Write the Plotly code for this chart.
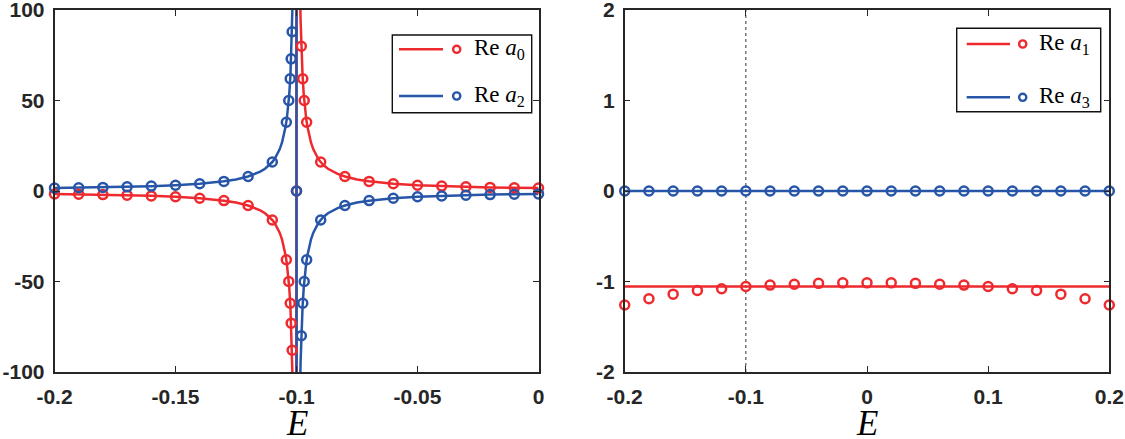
import plotly.graph_objects as go

# ---------------- data ----------------
# Left panel: dense curve samples of Re a0 / Re a2 versus E
E_line_left = [-0.2, -0.19, -0.18, -0.17, -0.16, -0.15, -0.14, -0.13, -0.125, -0.12,
               -0.117, -0.115, -0.113, -0.111, -0.11, -0.109, -0.108, -0.107, -0.106, -0.105,
               -0.1045, -0.104, -0.1035, -0.103, -0.1025, -0.102, -0.1017, -0.1014, -0.1011, -0.1008,
               -0.1004, -0.1001,
               -0.0999, -0.0996, -0.0992, -0.0989, -0.0986, -0.0983, -0.098, -0.0975, -0.097, -0.0965,
               -0.096, -0.0955, -0.095, -0.094, -0.093, -0.092, -0.091, -0.09, -0.089, -0.087,
               -0.085, -0.083, -0.08, -0.075, -0.07, -0.065, -0.06, -0.05, -0.04, -0.03,
               -0.02, -0.01, 0.0]
re_a0_line = [-1.6, -1.78, -2.0, -2.29, -2.67, -3.2, -4.0, -5.33, -6.4, -8.0,
              -9.41, -10.7, -12.3, -14.5, -16.0, -17.8, -20.0, -22.9, -26.7, -32.0,
              -35.6, -40.0, -45.7, -53.3, -64.0, -80.0, -94.1, -114, -145, -200,
              -400, -1600,
              1600, 400, 200, 145, 114, 94.1, 80.0, 64.0, 53.3, 45.7,
              40.0, 35.6, 32.0, 26.7, 22.9, 20.0, 17.8, 16.0, 14.5, 12.3,
              10.7, 9.41, 8.0, 6.4, 5.33, 4.57, 4.0, 3.2, 2.67, 2.29,
              2.0, 1.78, 1.6]
re_a2_line = [1.6, 1.78, 2.0, 2.29, 2.67, 3.2, 4.0, 5.33, 6.4, 8.0,
              9.41, 10.7, 12.3, 14.5, 16.0, 17.8, 20.0, 22.9, 26.7, 32.0,
              35.6, 40.0, 45.7, 53.3, 64.0, 80.0, 94.1, 114, 145, 200,
              400, 1600,
              -1600, -400, -200, -145, -114, -94.1, -80.0, -64.0, -53.3, -45.7,
              -40.0, -35.6, -32.0, -26.7, -22.9, -20.0, -17.8, -16.0, -14.5, -12.3,
              -10.7, -9.41, -8.0, -6.4, -5.33, -4.57, -4.0, -3.2, -2.67, -2.29,
              -2.0, -1.78, -1.6]

# Left panel: sampled points (markers)
E_pts_left = [-0.2, -0.19, -0.18, -0.17, -0.16, -0.15, -0.14, -0.13, -0.12, -0.11,
              -0.1042, -0.1032, -0.1026, -0.1022, -0.1018, -0.1,
              -0.098, -0.0974, -0.0968, -0.0958,
              -0.09, -0.08, -0.07, -0.06, -0.05, -0.04, -0.03, -0.02, -0.01, 0.0]
re_a0_pts = [-1.6, -1.8, -2.0, -2.3, -2.7, -3.2, -4.0, -5.3, -8.0, -16.0,
             -38, -50, -62, -73, -88, 0,
             80, 62, 50, 38,
             16.0, 8.0, 5.3, 4.0, 3.2, 2.7, 2.3, 2.0, 1.8, 1.6]
re_a2_pts = [1.6, 1.8, 2.0, 2.3, 2.7, 3.2, 4.0, 5.3, 8.0, 16.0,
             38, 50, 62, 73, 88, 0,
             -80, -62, -50, -38,
             -16.0, -8.0, -5.3, -4.0, -3.2, -2.7, -2.3, -2.0, -1.8, -1.6]

# Right panel
E_line_right = [-0.2, 0.2]
re_a1_line = [-1.055, -1.055]
re_a3_line = [0.0, 0.0]
E_pts_right = [-0.2, -0.18, -0.16, -0.14, -0.12, -0.1, -0.08, -0.06, -0.04, -0.02, 0.0,
               0.02, 0.04, 0.06, 0.08, 0.1, 0.12, 0.14, 0.16, 0.18, 0.2]
re_a1_pts = [-1.26, -1.19, -1.14, -1.10, -1.08, -1.055, -1.04, -1.03, -1.02, -1.015, -1.015,
             -1.015, -1.02, -1.03, -1.04, -1.055, -1.08, -1.10, -1.14, -1.19, -1.26]
re_a3_pts = [0.0, 0.0, 0.0, 0.0, 0.0, 0.0, 0.0, 0.0, 0.0, 0.0, 0.0,
             0.0, 0.0, 0.0, 0.0, 0.0, 0.0, 0.0, 0.0, 0.0, 0.0]
E_marker_line = -0.1

x_ticks_left = [-0.2, -0.15, -0.1, -0.05, 0]
x_ticktext_left = ['-0.2', '-0.15', '-0.1', '-0.05', '0']
y_ticks_left = [-100, -50, 0, 50, 100]
y_ticktext_left = ['-100', '-50', '0', '50', '100']
x_ticks_right = [-0.2, -0.1, 0, 0.1, 0.2]
x_ticktext_right = ['-0.2', '-0.1', '0', '0.1', '0.2']
y_ticks_right = [-2, -1, 0, 1, 2]
y_ticktext_right = ['-2', '-1', '0', '1', '2']

legend_left = ['Re <i>a</i><sub>0</sub>', 'Re <i>a</i><sub>2</sub>']
legend_right = ['Re <i>a</i><sub>1</sub>', 'Re <i>a</i><sub>3</sub>']

# ---------------- style ----------------
W, H = 1125, 439
RED = '#EE2A2E'
BLUE = '#2755A8'
AX = '#262626'
LW = 2.5
MS = 9

fig = go.Figure()

def add_line(xl, yl, color, xa, ya):
    fig.add_trace(go.Scatter(x=xl, y=yl, mode='lines', line=dict(color=color, width=LW),
                             xaxis=xa, yaxis=ya, showlegend=False, hoverinfo='skip'))

def add_pts(xp, yp, color, xa, ya):
    fig.add_trace(go.Scatter(x=xp, y=yp, mode='markers',
                             marker=dict(symbol='circle-open', size=MS, color=color,
                                         line=dict(color=color, width=2.5)),
                             xaxis=xa, yaxis=ya, showlegend=False, cliponaxis=False))

add_line(E_line_left, re_a0_line, RED, 'x', 'y')
add_line(E_line_left, re_a2_line, BLUE, 'x', 'y')
add_pts(E_pts_left, re_a0_pts, RED, 'x', 'y')
add_pts(E_pts_left, re_a2_pts, BLUE, 'x', 'y')

add_line(E_line_right, re_a1_line, RED, 'x2', 'y2')
add_line(E_line_right, re_a3_line, BLUE, 'x2', 'y2')
add_pts(E_pts_right, re_a1_pts, RED, 'x2', 'y2')
add_pts(E_pts_right, re_a3_pts, BLUE, 'x2', 'y2')

tickfont = dict(family='Liberation Sans, Arial, sans-serif', size=21, color=AX, weight='bold')
common = dict(showgrid=False, zeroline=False, showline=True, mirror='ticks', linecolor=AX,
              linewidth=1.5, ticks='inside', ticklen=6, tickwidth=1.3, tickcolor=AX,
              tickfont=tickfont, automargin=False, fixedrange=True, ticklabeloverflow='allow')

ydom = [1 - 372 / H, 1 - 10 / H]
xdom_l = [54.5 / W, 538.5 / W]
xdom_r = [624.7 / W, 1109.3 / W]

fig.update_layout(
    width=W, height=H,
    margin=dict(l=0, r=0, t=0, b=0),
    paper_bgcolor='white', plot_bgcolor='white',
    showlegend=False,
    xaxis=dict(domain=xdom_l, range=[-0.2, 0], tickvals=x_ticks_left, ticktext=x_ticktext_left,
               anchor='y', ticklabelstandoff=5, **common),
    yaxis=dict(domain=ydom, range=[-100, 100], tickvals=y_ticks_left, ticktext=y_ticktext_left,
               anchor='x', ticklabelstandoff=4, **common),
    xaxis2=dict(domain=xdom_r, range=[-0.2, 0.2], tickvals=x_ticks_right, ticktext=x_ticktext_right,
                anchor='y2', ticklabelstandoff=5, **common),
    yaxis2=dict(domain=ydom, range=[-2, 2], tickvals=y_ticks_right, ticktext=y_ticktext_right,
                anchor='x2', ticklabelstandoff=4, **common),
)

# dotted vertical line in right panel
shapes = [dict(type='line', xref='x2', yref='y2 domain', x0=E_marker_line, x1=E_marker_line,
               y0=0, y1=1, line=dict(color='#333333', width=1, dash='dot'), layer='below')]

annotations = []
serif = 'Liberation Serif, Times New Roman, serif'

def build_legend(box, rows, line_x, mark_x, text_x, labels):
    x0, y0, x1, y1 = box
    shapes.append(dict(type='rect', xref='paper', yref='paper', x0=x0 / W, x1=x1 / W,
                       y0=1 - y1 / H, y1=1 - y0 / H, line=dict(color='#111111', width=1.4),
                       fillcolor='white', layer='above'))
    for ry, col, lab in zip(rows, [RED, BLUE], labels):
        shapes.append(dict(type='line', xref='paper', yref='paper', x0=line_x[0] / W, x1=line_x[1] / W,
                           y0=1 - ry / H, y1=1 - ry / H, line=dict(color=col, width=LW), layer='above'))
        shapes.append(dict(type='circle', xref='paper', yref='paper', xsizemode='pixel', ysizemode='pixel',
                           xanchor=mark_x / W, yanchor=1 - ry / H, x0=-3.6, x1=3.6, y0=-3.6, y1=3.6,
                           line=dict(color=col, width=2.4), layer='above'))
        annotations.append(dict(xref='paper', yref='paper', x=text_x / W, y=1 - ry / H,
                                xanchor='left', yanchor='middle', showarrow=False, text=lab,
                                font=dict(family=serif, size=23, color='black')))

build_legend((392.3, 35, 531.7, 112.7), [49.3, 96], (399, 443), 456.7, 472, legend_left)
build_legend((956.7, 28.3, 1100.7, 111.7), [44, 97.3], (966.7, 1010), 1022.7, 1037, legend_right)

for cx in [(xdom_l[0] + xdom_l[1]) / 2, (xdom_r[0] + xdom_r[1]) / 2]:
    annotations.append(dict(xref='paper', yref='paper', x=cx, y=1 - 423 / H, xanchor='center',
                            yanchor='middle', showarrow=False, text='<i>E</i>',
                            font=dict(family=serif, size=35, color='black')))

fig.update_layout(shapes=shapes, annotations=annotations)
fig.write_html('out.html')
